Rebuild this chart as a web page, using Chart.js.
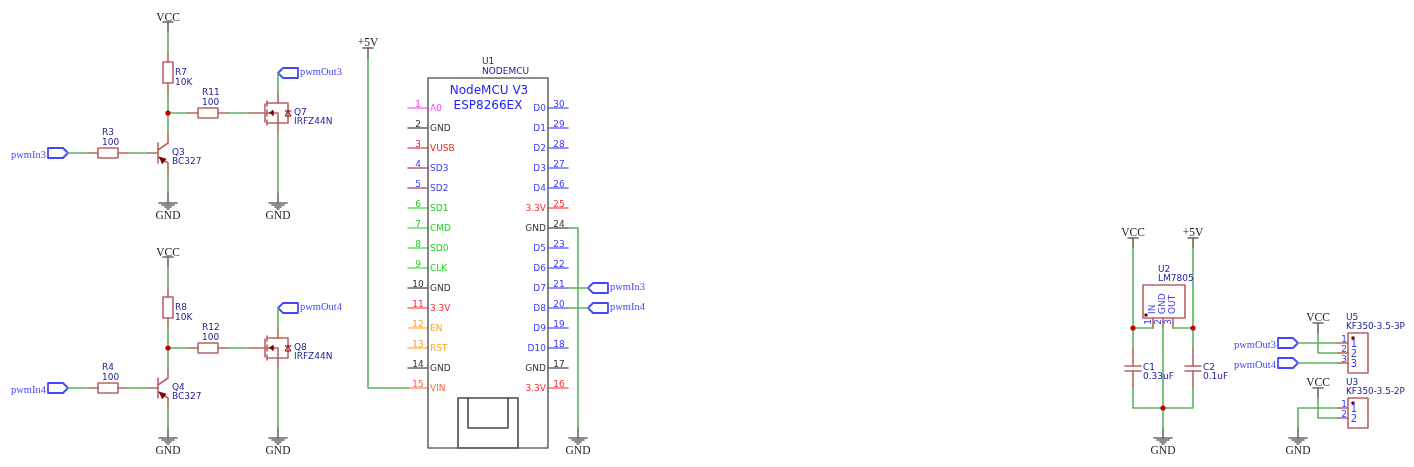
<!DOCTYPE html>
<html>
<head>
<meta charset="utf-8">
<title>NodeMCU PWM driver schematic</title>
<script src="https://cdn.jsdelivr.net/npm/chart.js@4/dist/chart.umd.min.js"></script>
<style>
  html, body { margin: 0; padding: 0; background: #fff; }
  canvas { display: block; filter: blur(0.3px); }
</style>
</head>
<body>
<canvas id="myChart" width="1414" height="467"></canvas>
<script>
// every path is [x0, y0, x1, y1, ...] in sheet units
var stageOffsets = [0, 235];
var stageWires = [
    [168, 33, 168, 53], [168, 93, 168, 133], [168, 113, 188, 113],
    [228, 113, 248, 113], [68, 153, 88, 153], [128, 153, 148, 153],
    [168, 173, 168, 193], [278, 73, 278, 93], [278, 133, 278, 193]
];
var stageParts = [
    [168, 53, 168, 62], [163, 62, 173, 62, 173, 83, 163, 83, 163, 62], [168, 83, 168, 93],
    [188, 113, 198, 113], [198, 108, 218, 108, 218, 118, 198, 118, 198, 108], [218, 113, 228, 113],
    [88, 153, 98, 153], [98, 148, 118, 148, 118, 158, 98, 158, 98, 148], [118, 153, 128, 153],
    [148, 153, 158, 153], [158, 143, 158, 163], [158, 150, 168, 143, 168, 133],
    [158, 157, 168, 163, 168, 173],
    [248, 113, 265, 113], [265, 104, 265, 122], [267, 101, 267, 106], [267, 110, 267, 116], [267, 120, 267, 125],
    [267, 103, 278, 103, 278, 93], [267, 123, 278, 123, 278, 133], [267, 113, 278, 113, 278, 123],
    [278, 103, 288, 103, 288, 123, 278, 123]
];
var stageFills = [
    [159, 157, 166, 159, 162, 164],
    [269, 113, 273, 110.5, 273, 115.5]
];
var stageDiode = [
    [285, 111, 291, 111], [288, 111, 291, 116, 285, 116, 288, 111]
];
var stageJunctions = [[168, 113]];
var stageLabels = [
    [278, 73, 283, 68, 298, 68, 298, 78, 283, 78, 278, 73],
    [68, 153, 63, 148, 48, 148, 48, 158, 63, 158, 68, 153]
];
var stageVcc = [[168, 22]];
var stageGnd = [[168, 203], [278, 203]];

var wires = [
    [368, 58, 368, 388, 408, 388],
    [568, 228, 578, 228, 578, 428],
    [568, 288, 588, 288], [568, 308, 588, 308],
    [1133, 248, 1133, 348], [1193, 248, 1193, 348],
    [1133, 328, 1153, 328], [1173, 328, 1193, 328],
    [1163, 328, 1163, 428],
    [1133, 388, 1133, 408, 1193, 408, 1193, 388],
    [1298, 343, 1338, 343], [1318, 333, 1318, 353, 1338, 353], [1298, 363, 1338, 363],
    [1318, 398, 1318, 418, 1338, 418], [1338, 408, 1298, 408, 1298, 428]
];
var parts = [
    [1143, 285, 1185, 285, 1185, 318, 1143, 318, 1143, 285],
    [1153, 318, 1153, 328], [1163, 318, 1163, 328], [1173, 318, 1173, 328],
    [1133, 348, 1133, 366], [1125, 366, 1141, 366], [1125, 371, 1141, 371], [1133, 371, 1133, 388],
    [1193, 348, 1193, 366], [1185, 366, 1201, 366], [1185, 371, 1201, 371], [1193, 371, 1193, 388],
    [1348, 333, 1368, 333, 1368, 373, 1348, 373, 1348, 333],
    [1338, 343, 1348, 343], [1338, 353, 1348, 353], [1338, 363, 1348, 363],
    [1348, 398, 1368, 398, 1368, 428, 1348, 428, 1348, 398],
    [1338, 408, 1348, 408], [1338, 418, 1348, 418]
];
var junctions = [[1133, 328], [1193, 328], [1163, 408]];
var partDots = [[1146, 315], [1353, 338], [1353, 403]];
var labels = [
    [588, 288, 593, 283, 608, 283, 608, 293, 593, 293, 588, 288],
    [588, 308, 593, 303, 608, 303, 608, 313, 593, 313, 588, 308],
    [1298, 343, 1293, 338, 1278, 338, 1278, 348, 1293, 348, 1298, 343],
    [1298, 363, 1293, 358, 1278, 358, 1278, 368, 1293, 368, 1298, 363]
];
var vccBars = [[368, 48], [1133, 238], [1193, 238], [1318, 323], [1318, 388]];
var gndBars = [[578, 438], [1163, 438], [1298, 438]];
var moduleBox = [428, 78, 548, 78, 548, 448, 428, 448, 428, 78];
var antenna = [
    [458, 448, 458, 398, 518, 398, 518, 448, 458, 448],
    [468, 398, 468, 428, 508, 428, 508, 398]
];

var pinRows = [108, 128, 148, 168, 188, 208, 228, 248, 268, 288, 308, 328, 348, 368, 388];
var leftNames = ["A0", "GND", "VUSB", "SD3", "SD2", "SD1", "CMD", "SD0", "CLK", "GND", "3.3V", "EN", "RST", "GND", "VIN"];
var leftKinds = ["pink", "dark", "vusb", "blue", "blue", "green", "green", "green", "green", "dark", "red", "amber", "amber", "dark", "vin"];
var leftStubs = ["pink", "dark", "vusb", "part", "part", "green", "green", "green", "green", "dark", "red", "amber", "amber", "dark", "vin"];
var leftNumbers = ["1", "2", "3", "4", "5", "6", "7", "8", "9", "10", "11", "12", "13", "14", "15"];
var rightNames = ["D0", "D1", "D2", "D3", "D4", "3.3V", "GND", "D5", "D6", "D7", "D8", "D9", "D10", "GND", "3.3V"];
var rightKinds = ["blue", "blue", "blue", "blue", "blue", "red", "dark", "blue", "blue", "blue", "blue", "blue", "blue", "dark", "red"];
var rightNumbers = ["30", "29", "28", "27", "26", "25", "24", "23", "22", "21", "20", "19", "18", "17", "16"];

var netNotes = [
    ["VCC", 168, 18], ["GND", 168, 216], ["GND", 278, 216],
    ["VCC", 168, 253], ["GND", 168, 451], ["GND", 278, 451],
    ["+5V", 368, 43], ["GND", 578, 451], ["VCC", 1133, 233], ["+5V", 1193, 233],
    ["GND", 1163, 451], ["VCC", 1318, 318], ["VCC", 1318, 383], ["GND", 1298, 451]
];
var labelNotesLeft = [
    ["pwmOut3", 300, 72], ["pwmOut4", 300, 307], ["pwmIn3", 610, 287], ["pwmIn4", 610, 307]
];
var labelNotesRight = [
    ["pwmIn3", 46, 155], ["pwmIn4", 46, 390], ["pwmOut3", 1276, 345], ["pwmOut4", 1276, 365]
];
var partNotes = [
    ["R7", 175, 73], ["10K", 175, 83], ["R11", 202, 93], ["100", 202, 103],
    ["R3", 102, 133], ["100", 102, 143], ["Q3", 172, 153], ["BC327", 172, 162],
    ["Q7", 294, 113], ["IRFZ44N", 294, 122],
    ["R8", 175, 308], ["10K", 175, 318], ["R12", 202, 328], ["100", 202, 338],
    ["R4", 102, 368], ["100", 102, 378], ["Q4", 172, 388], ["BC327", 172, 397],
    ["Q8", 294, 348], ["IRFZ44N", 294, 357],
    ["U1", 482, 62], ["NODEMCU", 482, 72],
    ["U2", 1158, 270], ["LM7805", 1158, 279],
    ["C1", 1143, 368], ["0.33uF", 1143, 377], ["C2", 1203, 368], ["0.1uF", 1203, 377],
    ["U5", 1346, 318], ["U3", 1346, 383]
];
var connectorRefs = [["KF350-3.5-3P", 1346, 327], ["KF350-3.5-2P", 1346, 392]];
var titleNotes = [["NodeMCU V3", 489, 91], ["ESP8266EX", 488, 106]];
var connectorNames = [["1", 1354, 344], ["2", 1354, 354], ["3", 1354, 364], ["1", 1354, 409], ["2", 1354, 419]];
var connectorNumbers = [["1", 1344, 340], ["2", 1344, 350], ["3", 1344, 360], ["1", 1344, 405], ["2", 1344, 415]];
var regulatorNames = [["IN", 1153, 314], ["GND", 1163, 314], ["OUT", 1173, 314]];
var regulatorNumbers = [["1", 1149, 322], ["2", 1159, 322], ["3", 1169, 322]];

var colors = {
    wire: '#5fb25f', part: '#b86464', fill: '#840000', power: '#686868', label: '#4646ff',
    note: '#1c1c94', pink: '#ff3cff', dark: '#333333', vusb: '#e02828', blue: '#3a3aff',
    green: '#22d022', red: '#ff2c2c', amber: '#ffa51e', vin: '#ff6a3c', junction: '#c80000', ink: '#222222'
};
var stubColors = {
    part: '#b86464', pink: '#ff70ff', dark: '#666666', vusb: '#e46464', blue: '#7070ff',
    green: '#70dc70', red: '#ff6c6c', amber: '#ffbe60', vin: '#ff9a80'
};

function shifted(path, dy) {
    return path.map(function (v, i) { return i % 2 ? v + dy : v; });
}
function toPoints(path) {
    var pts = [];
    for (var i = 0; i < path.length; i += 2) pts.push({ x: path[i], y: path[i + 1] });
    return pts;
}
function lineSet(path, color, width) {
    return { data: toPoints(path), showLine: true, borderColor: color, borderWidth: width || 1.6, pointRadius: 0, fill: false, tension: 0, borderCapStyle: 'round', borderJoinStyle: 'round' };
}
function fillSet(path, color) {
    return { data: toPoints(path), showLine: true, order: -1, borderColor: color, backgroundColor: color, borderWidth: 0.8, pointRadius: 0, fill: 'shape', tension: 0 };
}
function dotSet(spots, color, radius) {
    return { data: spots.map(function (s) { return { x: s[0], y: s[1] }; }), showLine: false, order: -2, pointRadius: radius, backgroundColor: color, borderWidth: 0 };
}
function vccPaths(x, y) {
    return [[x - 5, y, x + 5, y], [x, y, x, y + 10]];
}
function gndPaths(x, y) {
    return [[x, y - 10, x, y], [x - 9, y, x + 9, y], [x - 6, y + 2, x + 6, y + 2], [x - 3, y + 4, x + 3, y + 4], [x - 1, y + 6, x + 1, y + 6]];
}

var datasets = [];
stageOffsets.forEach(function (dy) {
    stageWires.forEach(function (p) { datasets.push(lineSet(shifted(p, dy), colors.wire)); });
    stageParts.forEach(function (p) { datasets.push(lineSet(shifted(p, dy), colors.part)); });
    stageFills.forEach(function (p) { datasets.push(fillSet(shifted(p, dy), colors.fill)); });
    stageDiode.forEach(function (p) { var d = lineSet(shifted(p, dy), colors.fill, 1); d.order = -1; datasets.push(d); });
    stageLabels.forEach(function (p) { datasets.push(lineSet(shifted(p, dy), colors.label, 1.8)); });
    stageVcc.forEach(function (s) { vccPaths(s[0], s[1] + dy).forEach(function (p) { datasets.push(lineSet(p, colors.power)); }); });
    stageGnd.forEach(function (s) { gndPaths(s[0], s[1] + dy).forEach(function (p) { datasets.push(lineSet(p, colors.power)); }); });
    datasets.push(dotSet(stageJunctions.map(function (s) { return [s[0], s[1] + dy]; }), colors.junction, 2.6));
});
wires.forEach(function (p) { datasets.push(lineSet(p, colors.wire)); });
parts.forEach(function (p) { datasets.push(lineSet(p, colors.part)); });
labels.forEach(function (p) { datasets.push(lineSet(p, colors.label, 1.8)); });
vccBars.forEach(function (s) { vccPaths(s[0], s[1]).forEach(function (p) { datasets.push(lineSet(p, colors.power)); }); });
gndBars.forEach(function (s) { gndPaths(s[0], s[1]).forEach(function (p) { datasets.push(lineSet(p, colors.power)); }); });
datasets.push(lineSet(moduleBox, colors.power));
antenna.forEach(function (p) { datasets.push(lineSet(p, '#4a4a4a')); });
pinRows.forEach(function (y, i) {
    datasets.push(lineSet([408, y, 428, y], stubColors[leftStubs[i]]));
    datasets.push(lineSet([548, y, 568, y], stubColors[rightKinds[i]]));
});
datasets.push(dotSet(junctions, colors.junction, 2.6));
datasets.push(dotSet(partDots, colors.fill, 1.8));

var SANS = '"DejaVu Sans"';
var SERIF = '"Liberation Serif"';

// text goes through the same scales as the marks
var notesPlugin = {
    id: 'notes',
    afterDatasetsDraw: function (chart) {
        var c = chart.ctx, sx = chart.scales.x, sy = chart.scales.y;
        function put(text, x, y, font, color, align, rot) {
            c.save();
            c.translate(sx.getPixelForValue(x), sy.getPixelForValue(y));
            if (rot) c.rotate(rot);
            c.font = font;
            c.fillStyle = color;
            c.textAlign = align || 'left';
            c.textBaseline = 'middle';
            c.fillText(text, 0, 0);
            c.restore();
        }
        netNotes.forEach(function (n) { put(n[0], n[1], n[2], '11.5px ' + SERIF, colors.ink, 'center'); });
        labelNotesLeft.forEach(function (n) { put(n[0], n[1], n[2], '10.5px ' + SERIF, colors.label, 'left'); });
        labelNotesRight.forEach(function (n) { put(n[0], n[1], n[2], '10.5px ' + SERIF, colors.label, 'right'); });
        partNotes.forEach(function (n) { put(n[0], n[1], n[2], '9px ' + SANS, colors.note, 'left'); });
        connectorRefs.forEach(function (n) { put(n[0], n[1], n[2], '8.8px ' + SANS, colors.note, 'left'); });
        titleNotes.forEach(function (n) { put(n[0], n[1], n[2], '12px ' + SANS, '#2222ff', 'center'); });
        pinRows.forEach(function (y, i) {
            put(leftNames[i], 430, y + 1, '9px ' + SANS, colors[leftKinds[i]], 'left');
            put(leftNumbers[i], 418, y - 3, '9px ' + SANS, colors[leftKinds[i]], 'center');
            put(rightNames[i], 546, y + 1, '9px ' + SANS, colors[rightKinds[i]], 'right');
            put(rightNumbers[i], 559, y - 3, '9px ' + SANS, colors[rightKinds[i]], 'center');
        });
        connectorNames.forEach(function (n) { put(n[0], n[1], n[2], '10px ' + SANS, colors.blue, 'center'); });
        connectorNumbers.forEach(function (n) { put(n[0], n[1], n[2], '9px ' + SANS, colors.blue, 'center'); });
        regulatorNames.forEach(function (n) { put(n[0], n[1], n[2], '9px ' + SANS, colors.blue, 'left', -Math.PI / 2); });
        regulatorNumbers.forEach(function (n) { put(n[0], n[1], n[2], '9px ' + SANS, colors.blue, 'center', -Math.PI / 2); });
    }
};

var ctx = document.getElementById('myChart');
var myChart = new Chart(ctx, {
    type: 'scatter',
    data: { datasets: datasets },
    plugins: [notesPlugin],
    options: {
        responsive: false,
        animation: false,
        devicePixelRatio: 1,
        layout: { padding: 0, autoPadding: false },
        plugins: { legend: { display: false }, tooltip: { enabled: false }, title: { display: false } },
        scales: {
            x: { type: 'linear', min: 0, max: 1414, display: false },
            y: { type: 'linear', min: 0, max: 467, reverse: true, display: false }
        }
    }
});
</script>
</body>
</html>
